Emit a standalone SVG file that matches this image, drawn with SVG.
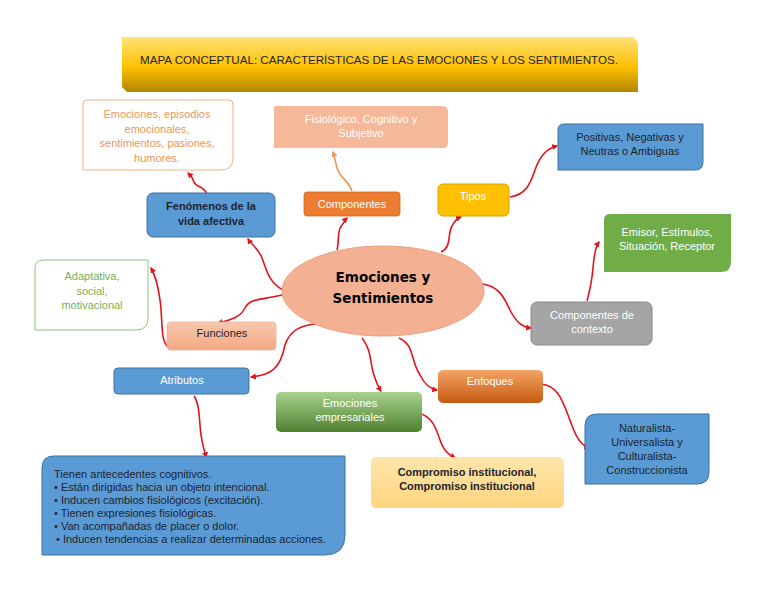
<svg xmlns="http://www.w3.org/2000/svg" width="768" height="594" viewBox="0 0 768 594">
<defs>
<linearGradient id="gTitle" x1="0" y1="0" x2="0" y2="1"><stop offset="0" stop-color="#ffe277"/><stop offset="0.55" stop-color="#ffc000"/><stop offset="1" stop-color="#b08500"/></linearGradient>
<linearGradient id="gGreen" x1="0" y1="0" x2="0" y2="1"><stop offset="0" stop-color="#a9d18e"/><stop offset="1" stop-color="#4f8131"/></linearGradient>
<linearGradient id="gOrange" x1="0" y1="0" x2="0" y2="1"><stop offset="0" stop-color="#f4a465"/><stop offset="1" stop-color="#c55a11"/></linearGradient>
<linearGradient id="gSalmon" x1="0" y1="0" x2="0" y2="1"><stop offset="0" stop-color="#f8c8ae"/><stop offset="1" stop-color="#f3a883"/></linearGradient>
<linearGradient id="gYellow" x1="0" y1="0" x2="0" y2="1"><stop offset="0" stop-color="#ffe6ab"/><stop offset="1" stop-color="#ffd47e"/></linearGradient>
<marker id="arr" viewBox="0 0 10 10" refX="8" refY="5" markerWidth="6" markerHeight="6" orient="auto" markerUnits="userSpaceOnUse"><path d="M0,0 L10,5 L0,10 Z" fill="#e3131b"/></marker>
<marker id="arrO" viewBox="0 0 10 10" refX="8" refY="5" markerWidth="6" markerHeight="6" orient="auto" markerUnits="userSpaceOnUse"><path d="M0,0 L10,5 L0,10 Z" fill="#e8955a"/></marker>
</defs>
<style>
text{font-family:"Liberation Sans",Arial,sans-serif;font-size:11px;text-anchor:middle}
.w{fill:#ffffff}
.d{fill:#1c2430}
.b{font-weight:bold}
.c{fill:none;stroke:#e3131b;stroke-width:1.6;marker-end:url(#arr)}
.blue{fill:#5b9bd5;stroke:#41719c;stroke-width:1}
</style>
<rect width="768" height="594" fill="#ffffff"/>

<g id="title">
<path d="M122,37 H633 L638,42 V92 H127 L122,87 Z" fill="url(#gTitle)"/>
<text x="379" y="64" class="d" style="font-size:11.6px">MAPA CONCEPTUAL: CARACTERÍSTICAS DE LAS EMOCIONES Y LOS SENTIMIENTOS.</text>
</g>

<g id="connectors">
<path class="c" d="M283,290 C268,282 266,268 262,258 C258,248 252,245 248,239"/>
<path class="c" d="M207,194 C203,185 196,188 194,182 C192,176 190,175 188,173"/>
<path class="c" d="M337,250 C340,240 336,232 342,225 C345,221 346,219 347,218"/>
<path d="M352,191 C348,180 340,178 337,168 C335,160 334,155 333,152" fill="none" stroke="#e8955a" stroke-width="1.6" marker-end="url(#arrO)"/>
<path class="c" d="M441,252 C452,247 447,235 452,226 C455,220 458,218 461,217"/>
<path class="c" d="M510,197 C525,195 530,185 535,170 C540,155 548,148 557,146"/>
<path class="c" d="M482,284 C500,286 505,300 510,310 C516,322 522,327 531,328"/>
<path class="c" d="M587,301 C590,290 592,280 593,268 C594,255 596,246 599,242"/>
<path class="c" d="M282,295 C262,300 250,298 245,308 C240,318 230,320 218,323"/>
<path class="c" d="M168,347 C160,340 163,320 160,300 C158,285 155,275 151,268"/>
<path class="c" d="M322,323 C300,325 290,330 285,345 C280,370 270,375 251,377"/>
<path class="c" d="M194,396 C200,405 199,420 201,435 C203,448 205,452 206,457"/>
<path class="c" d="M362,338 C372,350 370,365 374,375 C377,385 379,388 381,391"/>
<path class="c" d="M399,338 C415,345 410,360 420,375 C425,385 430,389 437,390"/>
<path class="c" d="M418,413 C432,416 436,428 440,440 C444,452 450,455 455,458"/>
<path class="c" d="M541,384 C558,386 562,400 568,415 C575,435 580,446 589,447"/>
</g>

<g id="center">
<ellipse cx="383" cy="291" rx="101" ry="45" fill="#f4b093" stroke="#eaa07e" stroke-width="1"/>
<text x="383" y="282" style="font-family:'DejaVu Sans',sans-serif;font-weight:bold;font-size:13.5px;fill:#000">Emociones y</text>
<text x="383" y="303" style="font-family:'DejaVu Sans',sans-serif;font-weight:bold;font-size:13.5px;fill:#000">Sentimientos</text>
</g>

<g id="n-fenomenos-list">
<path d="M87,100 H229 Q233,100 233,104 V158 Q233,170 221,170 H83 V104 Q83,100 87,100 Z" fill="#ffffff" stroke="#f4b183" stroke-width="1"/>
<text x="157" y="118" style="fill:#e8965a">Emociones, episodios</text>
<text x="157" y="133" style="fill:#e8965a">emocionales,</text>
<text x="157" y="147" style="fill:#e8965a">sentimientos, pasiones,</text>
<text x="157" y="162" style="fill:#e8965a">humores.</text>
</g>

<g id="n-fisiologico">
<path d="M274,106 H442 Q448,106 448,112 V142 Q448,148 442,148 H274 Z" fill="#f5b899"/>
<text x="361" y="123" class="w">Fisiológico, Cognitivo y</text>
<text x="361" y="137" class="w">Subjetivo</text>
</g>

<g id="n-fenomenos">
<rect x="147" y="193" width="128" height="44" rx="6" class="blue"/>
<text x="211" y="210" class="d b">Fenómenos de la</text>
<text x="211" y="225" class="d b">vida afectiva</text>
</g>

<g id="n-componentes">
<rect x="304" y="192" width="96" height="24" rx="3" fill="#ed7d31" stroke="#d86b22" stroke-width="0.8"/>
<text x="352" y="208" class="w">Componentes</text>
</g>

<g id="n-tipos">
<rect x="438" y="184" width="71" height="32" rx="5" fill="#ffc000" stroke="#d6a300" stroke-width="1"/>
<text x="473" y="200" class="w">Tipos</text>
</g>

<g id="n-positivas">
<path d="M564,124 H703 V162 Q703,170 695,170 H558 V130 Q558,124 564,124 Z" class="blue"/>
<text x="630" y="141" class="d">Positivas, Negativas y</text>
<text x="630" y="155" class="d">Neutras o Ambiguas</text>
</g>

<g id="n-emisor">
<path d="M610,214 H731 V262 Q731,272 721,272 H604 V220 Q604,214 610,214 Z" fill="#70ad47"/>
<text x="667" y="236" class="w">Emisor, Estímulos,</text>
<text x="667" y="250" class="w">Situación, Receptor</text>
</g>

<g id="n-contexto">
<rect x="531" y="302" width="121" height="43" rx="6" fill="#a5a5a5" stroke="#8a8a8a" stroke-width="1"/>
<text x="592" y="319" class="w">Componentes de</text>
<text x="592" y="333" class="w">contexto</text>
</g>

<g id="n-adaptativa">
<path d="M43,260 H148 V318 Q148,330 136,330 H35 V268 Q35,260 43,260 Z" fill="#ffffff" stroke="#8fc17a" stroke-width="1"/>
<text x="92" y="280" style="fill:#76b05a">Adaptativa,</text>
<text x="92" y="295" style="fill:#76b05a">social,</text>
<text x="92" y="309" style="fill:#76b05a">motivacional</text>
</g>

<g id="n-funciones">
<rect x="167" y="322" width="109" height="28" rx="4" fill="url(#gSalmon)" stroke="#efb295" stroke-width="0.8"/>
<text x="222" y="337" class="d">Funciones</text>
</g>

<g id="n-atributos">
<rect x="114" y="368" width="135" height="26" rx="4" class="blue"/>
<text x="182" y="384" class="w">Atributos</text>
</g>

<g id="n-empresariales">
<rect x="276" y="392" width="146" height="40" rx="5" fill="url(#gGreen)"/>
<text x="350" y="407" class="w">Emociones</text>
<text x="350" y="421" class="w">empresariales</text>
</g>

<g id="n-enfoques">
<rect x="438" y="370" width="105" height="33" rx="5" fill="url(#gOrange)"/>
<text x="490" y="385" class="w">Enfoques</text>
</g>

<g id="n-naturalista">
<path d="M597,414 H709 V472 Q709,484 697,484 H585 V426 Q585,414 597,414 Z" class="blue"/>
<text x="647" y="432" class="d">Naturalista-</text>
<text x="647" y="446" class="d">Universalista y</text>
<text x="647" y="460" class="d">Culturalista-</text>
<text x="647" y="474" class="d">Construccionista</text>
</g>

<g id="n-compromiso">
<rect x="371" y="457" width="193" height="51" rx="5" fill="url(#gYellow)"/>
<text x="467" y="476" class="d b">Compromiso institucional,</text>
<text x="467" y="490" class="d b">Compromiso institucional</text>
</g>

<g id="n-lista-atributos">
<path d="M54,456 H345 V535 Q345,555 325,555 H42 V468 Q42,456 54,456 Z" class="blue"/>
<text x="54" y="478" class="d" style="text-anchor:start">Tienen antecedentes cognitivos.</text>
<text x="54" y="491" class="d" style="text-anchor:start">• Están dirigidas hacia un objeto intencional.</text>
<text x="54" y="504" class="d" style="text-anchor:start">• Inducen cambios fisiológicos (excitación).</text>
<text x="54" y="517" class="d" style="text-anchor:start">• Tienen expresiones fisiológicas.</text>
<text x="54" y="530" class="d" style="text-anchor:start">• Van acompañadas de placer o dolor.</text>
<text x="56" y="543" class="d" style="text-anchor:start">• Inducen tendencias a realizar determinadas acciones.</text>
</g>
</svg>
